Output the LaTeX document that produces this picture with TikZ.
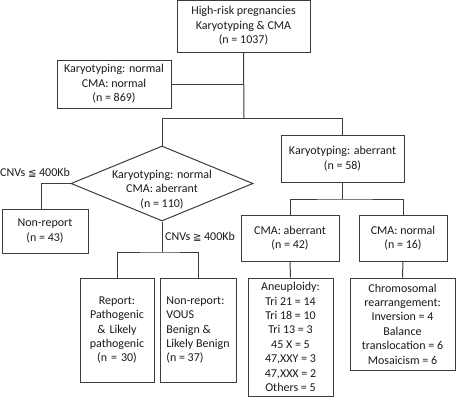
\documentclass[tikz,border=0pt]{standalone}
\usepackage{fontspec}
\setmainfont{Carlito}
\newfontfamily\symfont{DejaVu Sans}
\usetikzlibrary{shapes.geometric}
\definecolor{linec}{HTML}{3C3C3C}
\definecolor{textc}{HTML}{1A1A1A}
\tikzset{
  box/.style={draw=linec, line width=1pt, inner sep=0pt, align=center, text=textc,
    font=\fontsize{12}{14.4}\selectfont},
  conn/.style={draw=linec, line width=1pt},
  lbl/.style={inner sep=0pt, anchor=west, text=textc, font=\fontsize{12}{14.4}\selectfont}
}
\begin{document}
\begin{tikzpicture}[x=1pt,y=-1pt]
\useasboundingbox (0,0) rectangle (474,415);
\node[box, minimum width=133pt, minimum height=52pt] (top) at (243.5,26) {High-risk pregnancies\\Karyotyping \& CMA\\(n = 1037)};
\node[box, minimum width=114pt, minimum height=48pt] (knorm) at (114,84) {Karyotyping: normal\\CMA: normal\\(n = 869)};
\node[diamond, draw=linec, line width=1pt, minimum width=182pt, minimum height=75pt, inner sep=0pt] (dia) at (162,183.5) {};
\node[box, draw=none] (diatext) at (162,189.5) {Karyotyping: normal\\CMA: aberrant\\(n = 110)};
\node[box, minimum width=123pt, minimum height=47pt] (kab) at (342.5,158.5) {Karyotyping: aberrant\\(n = 58)};
\node[box, minimum width=86pt, minimum height=44pt] (nr) at (45,231) {Non-report\\(n = 43)};
\node[box, minimum width=74pt, minimum height=104pt, text width=70pt] (rep) at (117,330) {Report:\\Pathogenic\\\& Likely\\pathogenic\\(n = 30)};
\node[box, minimum width=76pt, minimum height=104pt, align=left] (nrep) at (198,330) {Non-report:\\VOUS\\Benign \&\\Likely Benign\\(n = 37)};
\node[box, minimum width=98pt, minimum height=46pt] (cmaab) at (290,238) {CMA: aberrant\\(n = 42)};
\node[box, minimum width=88pt, minimum height=46pt] (cmanorm) at (403,238) {CMA: normal\\(n = 16)};
\node[box, minimum width=85pt, minimum height=118pt] (aneu) at (290.5,337) {Aneuploidy:\\Tri 21 = 14\\Tri 18 = 10\\Tri 13 = 3\\45 X = 5\\47,XXY = 3\\47,XXX = 2\\Others = 5};
\node[box, minimum width=105pt, minimum height=92pt] (chrom) at (402.5,324) {Chromosomal\\rearrangement:\\Inversion = 4\\Balance\\translocation = 6\\Mosaicism = 6};
\node[lbl] (l1) at (0,173) {CNVs {\symfont\fontsize{10}{12}\selectfont ≦} 400Kb};
\node[lbl] (l2) at (165,237) {CNVs {\symfont\fontsize{10}{12}\selectfont ≧} 400Kb};
\coordinate (j1) at (244,118);
\coordinate (j2) at (162,252);
\coordinate (j3) at (342.5,199);
\draw[conn] (top.south) -- (j1);
\draw[conn] (knorm.east) -- (knorm.east -| j1);
\draw[conn] (dia.north) -- (dia.north |- j1) -- (kab.north |- j1) -- (kab.north);
\draw[conn] (dia.west) -| ([xshift=-4pt]nr.north);
\draw[conn] (dia.south) -- (j2);
\draw[conn] (rep.north) |- (j2) -| (nrep.north);
\draw[conn] (kab.south) -- (j3);
\draw[conn] (cmaab.north) |- (j3) -| (cmanorm.north);
\draw[conn] (cmaab.south) -- (aneu.north);
\draw[conn] (cmanorm.south) -- (chrom.north);
\end{tikzpicture}
\end{document}
